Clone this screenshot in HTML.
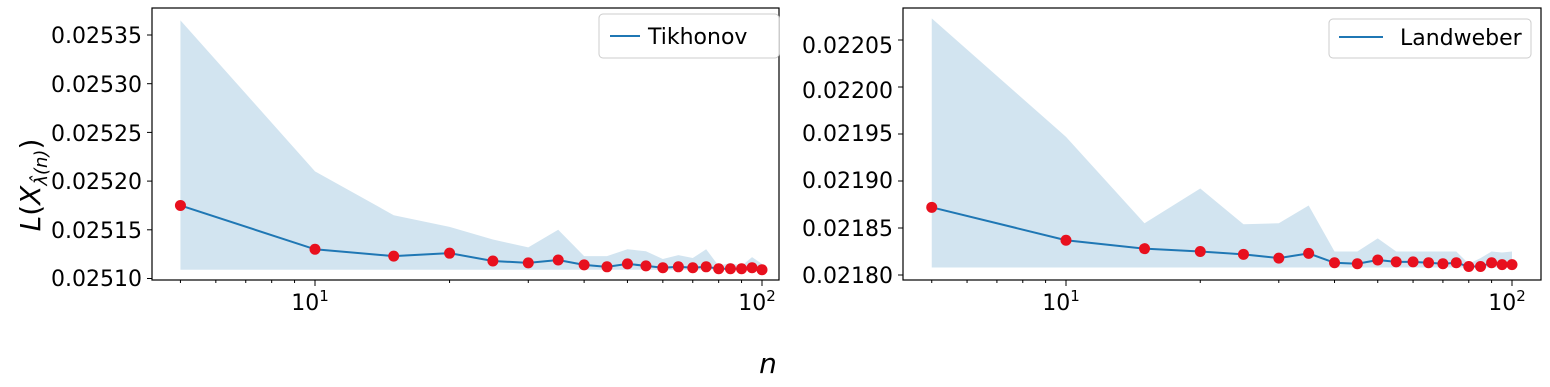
<!DOCTYPE html>
<html><head><meta charset="utf-8"><style>
body{margin:0;background:#fff;}
svg{display:block;font-family:"DejaVu Sans","Liberation Sans",sans-serif;}
</style></head><body>
<svg id="s" width="1550" height="387" xmlns="http://www.w3.org/2000/svg">
<g font-size="22" fill="#000" text-anchor="end">
<text x="142" y="43">0.02535</text>
<text x="142" y="92">0.02530</text>
<text x="142" y="141">0.02525</text>
<text x="142" y="189">0.02520</text>
<text x="142" y="238">0.02515</text>
<text x="142" y="286">0.02510</text>
<text x="893" y="53">0.02205</text>
<text x="893" y="98">0.02200</text>
<text x="893" y="141">0.02195</text>
<text x="893" y="188">0.02190</text>
<text x="893" y="236">0.02185</text>
<text x="893" y="283">0.02180</text>
</g>
<g font-size="22" text-anchor="middle">
<text x="310" y="310">10<tspan font-size="15" dy="-9">1</tspan></text>
<text x="757" y="310">10<tspan font-size="15" dy="-9">2</tspan></text>
<text x="1061" y="310">10<tspan font-size="15" dy="-9">1</tspan></text>
<text x="1507" y="310">10<tspan font-size="15" dy="-9">2</tspan></text>
</g>
<text x="768" y="373" font-size="28" font-style="italic" text-anchor="middle">n</text>
<text transform="translate(40,185) rotate(-90)" font-size="28" text-anchor="middle"><tspan font-style="italic">L</tspan>(<tspan font-style="italic">X</tspan><tspan font-size="18" font-style="italic" dy="7">λ̂(n)</tspan><tspan dy="-7">)</tspan></text>
<g id="plots"></g>
<g>
<rect x="599" y="14" width="180" height="44" rx="4" fill="#fff" stroke="#ccc"/>
<line x1="610" y1="36" x2="640" y2="36" stroke="#1f77b4" stroke-width="2"/>
<text x="648" y="44" font-size="22">Tikhonov</text>
<rect x="1329" y="19" width="202" height="39" rx="4" fill="#fff" stroke="#ccc"/>
<line x1="1339" y1="37" x2="1383" y2="37" stroke="#1f77b4" stroke-width="2"/>
<text x="1400" y="45" font-size="22">Landweber</text>
</g>
</svg>
<script>
var ns="http://www.w3.org/2000/svg",g=document.getElementById("plots");
function el(t,a){var e=document.createElementNS(ns,t);for(var k in a)e.setAttribute(k,a[k]);g.appendChild(e);return e;}
function plot(o){
 var X=function(n){return o.x10+(Math.log10(n)-1)*o.dec;};
 var Y=function(v){return o.y0-(v-o.v0)/0.00005*o.sp;};
 var ns_=[];for(var i=5;i<=100;i+=5)ns_.push(i);
 var p="";ns_.forEach(function(n,i){p+=(i?"L":"M")+X(n)+","+Y(o.up[i]);});
 for(var i=ns_.length-1;i>=0;i--)p+="L"+X(ns_[i])+","+Y(o.lo);
 el("path",{d:p+"Z",fill:"#1f77b4","fill-opacity":"0.2"});
 var l="";ns_.forEach(function(n,i){l+=(i?"L":"M")+X(n)+","+Y(o.m[i]);});
 el("path",{d:l,fill:"none",stroke:"#1f77b4","stroke-width":"2"});
 ns_.forEach(function(n,i){el("circle",{cx:X(n),cy:Y(o.m[i]),r:5.5,fill:"#e8101e"});});
 el("rect",{x:o.L,y:8,width:o.R-o.L,height:o.B-8,fill:"none",stroke:"#000","stroke-width":"1.2"});
 o.ticks.forEach(function(v){el("line",{x1:o.L-5,x2:o.L,y1:Y(v),y2:Y(v),stroke:"#000"});});
 [5,6,7,8,9,20,30,40,50,60,70,80,90].forEach(function(n){el("line",{x1:X(n),x2:X(n),y1:o.B,y2:o.B+3,stroke:"#000"});});
 [10,100].forEach(function(n){el("line",{x1:X(n),x2:X(n),y1:o.B,y2:o.B+6,stroke:"#000"});});
}
plot({L:152,R:779,B:280,x10:315,dec:447,y0:278.5,v0:0.0251,sp:48.7,lo:0.025109,
 ticks:[0.0251,0.02515,0.0252,0.02525,0.0253,0.02535],
 m:[0.025175,0.02513,0.025123,0.025126,0.025118,0.025116,0.025119,0.025114,0.025112,0.025115,0.025113,0.025111,0.025112,0.025111,0.025112,0.02511,0.02511,0.02511,0.025111,0.025109],
 up:[0.025365,0.02521,0.025165,0.025153,0.02514,0.025132,0.02515,0.025123,0.025123,0.02513,0.025128,0.02512,0.025124,0.025121,0.02513,0.025113,0.025116,0.025113,0.025122,0.025115]});
plot({L:903,R:1541,B:280,x10:1066,dec:446,y0:275,v0:0.0218,sp:47,lo:0.021808,
 ticks:[0.0218,0.02185,0.0219,0.02195,0.022,0.02205],
 m:[0.021872,0.021837,0.021828,0.021825,0.021822,0.021818,0.021823,0.021813,0.021812,0.021816,0.021814,0.021814,0.021813,0.021812,0.021813,0.021809,0.021809,0.021813,0.021811,0.021811],
 up:[0.022073,0.021947,0.021855,0.021892,0.021854,0.021855,0.021874,0.021825,0.021825,0.021839,0.021825,0.021825,0.021825,0.021825,0.021825,0.021812,0.021818,0.021825,0.021824,0.021825]});
</script>
</body></html>
